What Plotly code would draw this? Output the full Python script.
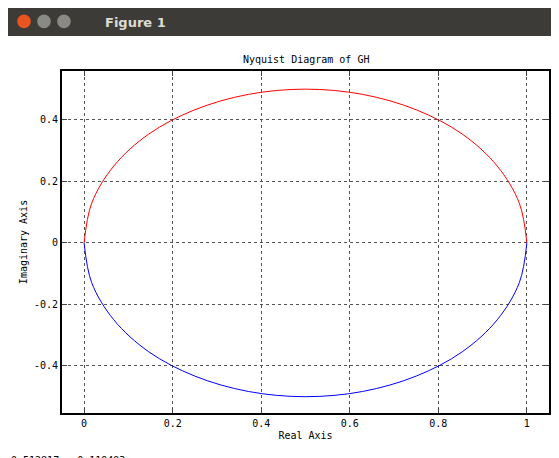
import plotly.graph_objects as go

upper_x = [1.0, 0.983, 0.933, 0.854, 0.75, 0.629, 0.5, 0.371, 0.25, 0.146, 0.067, 0.017, 0.0]
upper_y = [0.0, 0.129, 0.25, 0.354, 0.433, 0.483, 0.5, 0.483, 0.433, 0.354, 0.25, 0.129, 0.0]
lower_x = [0.0, 0.017, 0.067, 0.146, 0.25, 0.371, 0.5, 0.629, 0.75, 0.854, 0.933, 0.983, 1.0]
lower_y = [0.0, -0.129, -0.25, -0.354, -0.433, -0.483, -0.5, -0.483, -0.433, -0.354, -0.25, -0.129, 0.0]
x_ticks = [0, 0.2, 0.4, 0.6, 0.8, 1]
y_ticks = [-0.4, -0.2, 0, 0.2, 0.4]

font = dict(family="DejaVu Sans Mono", size=10, color="black")
fig = go.Figure()
fig.add_trace(go.Scatter(x=upper_x, y=upper_y, mode="lines", line=dict(color="red", width=1, shape="spline")))
fig.add_trace(go.Scatter(x=lower_x, y=lower_y, mode="lines", line=dict(color="blue", width=1, shape="spline")))

ax = dict(showline=True, linecolor="black", linewidth=2, mirror="ticks", ticks="inside",
          ticklen=5, showgrid=True, gridcolor="#555555", griddash="dot", gridwidth=0.7,
          zeroline=False, tickfont=font)
fig.update_layout(
    width=559, height=458, showlegend=False,
    margin=dict(l=54, r=18, t=63, b=53, autoexpand=False),
    paper_bgcolor="white", plot_bgcolor="white",
    xaxis=dict(ax, range=[-0.05, 1.05], tickvals=x_ticks, ticktext=["0", "0.2", "0.4", "0.6", "0.8", "1"],
               title=dict(text="Real Axis", font=font, standoff=4)),
    yaxis=dict(ax, range=[-0.553, 0.559], tickvals=y_ticks, ticktext=["-0.4", "-0.2", "0", "0.2", "0.4"],
               title=dict(text="Imaginary Axis", font=font, standoff=4)),
    shapes=[
        dict(type="rect", xref="paper", yref="paper", x0=-0.12, x1=1.05, y0=1.102, y1=1.19,
             fillcolor="#3c3b37", line=dict(width=0), layer="above"),
        dict(type="circle", xref="paper", yref="paper", x0=-0.092, x1=-0.064, y0=1.125, y1=1.165,
             fillcolor="#e95420", line=dict(width=0)),
        dict(type="circle", xref="paper", yref="paper", x0=-0.051, x1=-0.023, y0=1.125, y1=1.165,
             fillcolor="#8a8a85", line=dict(width=0)),
        dict(type="circle", xref="paper", yref="paper", x0=-0.010, x1=0.018, y0=1.125, y1=1.165,
             fillcolor="#8a8a85", line=dict(width=0)),
    ],
    annotations=[
        dict(text="<b>Figure 1</b>", xref="paper", yref="paper", x=0.085, y=1.143, showarrow=False,
             xanchor="left", yanchor="middle", font=dict(family="DejaVu Sans", size=13, color="#dfdbd2")),
        dict(text="Nyquist Diagram of GH", xref="paper", yref="paper", x=0.5, y=1.055, showarrow=False,
             font=font),
        dict(text="0.512817, -0.119493", xref="paper", yref="paper", x=-0.108, y=-0.14, showarrow=False,
             xanchor="left", yanchor="middle", font=font),
    ],
)
fig.write_html("out.html")
